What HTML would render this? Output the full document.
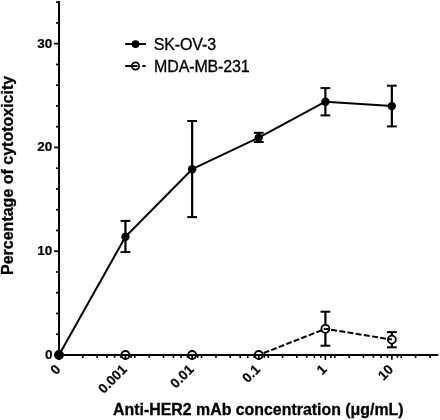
<!DOCTYPE html>
<html><head><meta charset="utf-8"><style>
html,body{margin:0;padding:0;background:#fff;}
svg{display:block;}
.tl{font-family:"Liberation Sans",Arial,sans-serif;font-weight:bold;font-size:13.5px;fill:#000;stroke:#000;stroke-width:0.2px;}
.ttl{font-family:"Liberation Sans",Arial,sans-serif;font-weight:bold;font-size:16px;fill:#000;stroke:#000;stroke-width:0.3px;}
.lg{font-family:"Liberation Sans",Arial,sans-serif;font-size:16px;letter-spacing:-0.15px;fill:#000;stroke:#000;stroke-width:0.3px;}
</style></head><body>
<svg width="440" height="420" viewBox="0 0 440 420">
<rect width="440" height="420" fill="#fff"/>
<line x1="59" y1="1.1" x2="59" y2="356" stroke="#000" stroke-width="2"/>
<line x1="58" y1="355.0" x2="438.3" y2="355.0" stroke="#000" stroke-width="2"/>
<line x1="54" y1="355.00" x2="59" y2="355.00" stroke="#000" stroke-width="1.7"/>
<line x1="56" y1="334.24" x2="59" y2="334.24" stroke="#000" stroke-width="1.7"/>
<line x1="56" y1="313.49" x2="59" y2="313.49" stroke="#000" stroke-width="1.7"/>
<line x1="56" y1="292.73" x2="59" y2="292.73" stroke="#000" stroke-width="1.7"/>
<line x1="56" y1="271.98" x2="59" y2="271.98" stroke="#000" stroke-width="1.7"/>
<line x1="54" y1="251.22" x2="59" y2="251.22" stroke="#000" stroke-width="1.7"/>
<line x1="56" y1="230.46" x2="59" y2="230.46" stroke="#000" stroke-width="1.7"/>
<line x1="56" y1="209.71" x2="59" y2="209.71" stroke="#000" stroke-width="1.7"/>
<line x1="56" y1="188.95" x2="59" y2="188.95" stroke="#000" stroke-width="1.7"/>
<line x1="56" y1="168.20" x2="59" y2="168.20" stroke="#000" stroke-width="1.7"/>
<line x1="54" y1="147.44" x2="59" y2="147.44" stroke="#000" stroke-width="1.7"/>
<line x1="56" y1="126.68" x2="59" y2="126.68" stroke="#000" stroke-width="1.7"/>
<line x1="56" y1="105.93" x2="59" y2="105.93" stroke="#000" stroke-width="1.7"/>
<line x1="56" y1="85.17" x2="59" y2="85.17" stroke="#000" stroke-width="1.7"/>
<line x1="56" y1="64.42" x2="59" y2="64.42" stroke="#000" stroke-width="1.7"/>
<line x1="54" y1="43.66" x2="59" y2="43.66" stroke="#000" stroke-width="1.7"/>
<line x1="56" y1="22.90" x2="59" y2="22.90" stroke="#000" stroke-width="1.7"/>
<line x1="56" y1="2.15" x2="59" y2="2.15" stroke="#000" stroke-width="1.7"/>
<line x1="59.00" y1="355.0" x2="59.00" y2="359.8" stroke="#000" stroke-width="1.7"/>
<line x1="82.80" y1="355.0" x2="82.80" y2="357.9" stroke="#000" stroke-width="1.6"/>
<line x1="97.10" y1="355.0" x2="97.10" y2="357.9" stroke="#000" stroke-width="1.6"/>
<line x1="107.00" y1="355.0" x2="107.00" y2="357.9" stroke="#000" stroke-width="1.6"/>
<line x1="114.60" y1="355.0" x2="114.60" y2="357.9" stroke="#000" stroke-width="1.6"/>
<line x1="121.00" y1="355.0" x2="121.00" y2="357.9" stroke="#000" stroke-width="1.6"/>
<line x1="125.45" y1="355.0" x2="125.45" y2="359.8" stroke="#000" stroke-width="1.7"/>
<line x1="131.05" y1="355.0" x2="131.05" y2="357.9" stroke="#000" stroke-width="1.6"/>
<line x1="134.85" y1="355.0" x2="134.85" y2="357.9" stroke="#000" stroke-width="1.6"/>
<line x1="149.25" y1="355.0" x2="149.25" y2="357.9" stroke="#000" stroke-width="1.6"/>
<line x1="163.55" y1="355.0" x2="163.55" y2="357.9" stroke="#000" stroke-width="1.6"/>
<line x1="173.45" y1="355.0" x2="173.45" y2="357.9" stroke="#000" stroke-width="1.6"/>
<line x1="181.05" y1="355.0" x2="181.05" y2="357.9" stroke="#000" stroke-width="1.6"/>
<line x1="187.45" y1="355.0" x2="187.45" y2="357.9" stroke="#000" stroke-width="1.6"/>
<line x1="192.15" y1="355.0" x2="192.15" y2="359.8" stroke="#000" stroke-width="1.7"/>
<line x1="197.75" y1="355.0" x2="197.75" y2="357.9" stroke="#000" stroke-width="1.6"/>
<line x1="201.55" y1="355.0" x2="201.55" y2="357.9" stroke="#000" stroke-width="1.6"/>
<line x1="215.95" y1="355.0" x2="215.95" y2="357.9" stroke="#000" stroke-width="1.6"/>
<line x1="230.25" y1="355.0" x2="230.25" y2="357.9" stroke="#000" stroke-width="1.6"/>
<line x1="240.15" y1="355.0" x2="240.15" y2="357.9" stroke="#000" stroke-width="1.6"/>
<line x1="247.75" y1="355.0" x2="247.75" y2="357.9" stroke="#000" stroke-width="1.6"/>
<line x1="254.15" y1="355.0" x2="254.15" y2="357.9" stroke="#000" stroke-width="1.6"/>
<line x1="258.75" y1="355.0" x2="258.75" y2="359.8" stroke="#000" stroke-width="1.7"/>
<line x1="264.35" y1="355.0" x2="264.35" y2="357.9" stroke="#000" stroke-width="1.6"/>
<line x1="268.15" y1="355.0" x2="268.15" y2="357.9" stroke="#000" stroke-width="1.6"/>
<line x1="282.55" y1="355.0" x2="282.55" y2="357.9" stroke="#000" stroke-width="1.6"/>
<line x1="296.85" y1="355.0" x2="296.85" y2="357.9" stroke="#000" stroke-width="1.6"/>
<line x1="306.75" y1="355.0" x2="306.75" y2="357.9" stroke="#000" stroke-width="1.6"/>
<line x1="314.35" y1="355.0" x2="314.35" y2="357.9" stroke="#000" stroke-width="1.6"/>
<line x1="320.75" y1="355.0" x2="320.75" y2="357.9" stroke="#000" stroke-width="1.6"/>
<line x1="325.40" y1="355.0" x2="325.40" y2="359.8" stroke="#000" stroke-width="1.7"/>
<line x1="331.00" y1="355.0" x2="331.00" y2="357.9" stroke="#000" stroke-width="1.6"/>
<line x1="334.80" y1="355.0" x2="334.80" y2="357.9" stroke="#000" stroke-width="1.6"/>
<line x1="349.20" y1="355.0" x2="349.20" y2="357.9" stroke="#000" stroke-width="1.6"/>
<line x1="363.50" y1="355.0" x2="363.50" y2="357.9" stroke="#000" stroke-width="1.6"/>
<line x1="373.40" y1="355.0" x2="373.40" y2="357.9" stroke="#000" stroke-width="1.6"/>
<line x1="381.00" y1="355.0" x2="381.00" y2="357.9" stroke="#000" stroke-width="1.6"/>
<line x1="387.40" y1="355.0" x2="387.40" y2="357.9" stroke="#000" stroke-width="1.6"/>
<line x1="391.85" y1="355.0" x2="391.85" y2="359.8" stroke="#000" stroke-width="1.7"/>
<line x1="397.45" y1="355.0" x2="397.45" y2="357.9" stroke="#000" stroke-width="1.6"/>
<line x1="401.25" y1="355.0" x2="401.25" y2="357.9" stroke="#000" stroke-width="1.6"/>
<line x1="415.65" y1="355.0" x2="415.65" y2="357.9" stroke="#000" stroke-width="1.6"/>
<line x1="429.95" y1="355.0" x2="429.95" y2="357.9" stroke="#000" stroke-width="1.6"/>
<text x="52.4" y="359.00" text-anchor="end" class="tl">0</text>
<text x="52.4" y="255.22" text-anchor="end" class="tl">10</text>
<text x="52.4" y="151.44" text-anchor="end" class="tl">20</text>
<text x="52.4" y="47.66" text-anchor="end" class="tl">30</text>
<text x="61.30" y="370.30" text-anchor="end" class="tl" transform="rotate(-45 61.30 370.30)">0</text>
<text x="127.75" y="370.30" text-anchor="end" class="tl" transform="rotate(-45 127.75 370.30)">0.001</text>
<text x="194.45" y="370.30" text-anchor="end" class="tl" transform="rotate(-45 194.45 370.30)">0.01</text>
<text x="261.05" y="370.30" text-anchor="end" class="tl" transform="rotate(-45 261.05 370.30)">0.1</text>
<text x="327.70" y="370.30" text-anchor="end" class="tl" transform="rotate(-45 327.70 370.30)">1</text>
<text x="394.15" y="370.30" text-anchor="end" class="tl" transform="rotate(-45 394.15 370.30)">10</text>
<text x="13.5" y="175.4" text-anchor="middle" class="ttl" style="font-size:16px" transform="rotate(-90 13.5 175.4)">Percentage of cytotoxicity</text>
<text x="258.3" y="414.9" text-anchor="middle" class="ttl" style="font-size:15.9px">Anti-HER2 mAb concentration (μg/mL)</text>
<line x1="125.45" y1="220.9" x2="125.45" y2="252.1" stroke="#000" stroke-width="2.2"/>
<line x1="120.55" y1="220.9" x2="130.35" y2="220.9" stroke="#000" stroke-width="2"/>
<line x1="120.55" y1="252.1" x2="130.35" y2="252.1" stroke="#000" stroke-width="2"/>
<line x1="192.15" y1="121" x2="192.15" y2="217.1" stroke="#000" stroke-width="2.2"/>
<line x1="187.25" y1="121" x2="197.05" y2="121" stroke="#000" stroke-width="2"/>
<line x1="187.25" y1="217.1" x2="197.05" y2="217.1" stroke="#000" stroke-width="2"/>
<line x1="258.75" y1="132.8" x2="258.75" y2="142.0" stroke="#000" stroke-width="2.2"/>
<line x1="253.85" y1="132.8" x2="263.65" y2="132.8" stroke="#000" stroke-width="2"/>
<line x1="253.85" y1="142.0" x2="263.65" y2="142.0" stroke="#000" stroke-width="2"/>
<line x1="325.40" y1="88.1" x2="325.40" y2="115.4" stroke="#000" stroke-width="2.2"/>
<line x1="320.50" y1="88.1" x2="330.30" y2="88.1" stroke="#000" stroke-width="2"/>
<line x1="320.50" y1="115.4" x2="330.30" y2="115.4" stroke="#000" stroke-width="2"/>
<line x1="391.85" y1="85.7" x2="391.85" y2="126.4" stroke="#000" stroke-width="2.2"/>
<line x1="386.95" y1="85.7" x2="396.75" y2="85.7" stroke="#000" stroke-width="2"/>
<line x1="386.95" y1="126.4" x2="396.75" y2="126.4" stroke="#000" stroke-width="2"/>
<line x1="325.40" y1="311.7" x2="325.40" y2="324.80" stroke="#000" stroke-width="2.2"/>
<line x1="325.40" y1="332.80" x2="325.40" y2="345.7" stroke="#000" stroke-width="2.2"/>
<line x1="320.50" y1="311.7" x2="330.30" y2="311.7" stroke="#000" stroke-width="2"/>
<line x1="320.50" y1="345.7" x2="330.30" y2="345.7" stroke="#000" stroke-width="2"/>
<line x1="391.85" y1="332.1" x2="391.85" y2="335.60" stroke="#000" stroke-width="2.2"/>
<line x1="391.85" y1="343.60" x2="391.85" y2="347.3" stroke="#000" stroke-width="2.2"/>
<line x1="386.95" y1="332.1" x2="396.75" y2="332.1" stroke="#000" stroke-width="2"/>
<line x1="386.95" y1="347.3" x2="396.75" y2="347.3" stroke="#000" stroke-width="2"/>
<polyline points="59.00,355.00 125.45,236.80 192.15,169.20 258.75,137.60 325.40,101.70 391.85,106.10" fill="none" stroke="#000" stroke-width="2" stroke-linejoin="round"/>
<line x1="263.70" y1="353.05" x2="325.40" y2="328.80" stroke="#000" stroke-width="2" stroke-dasharray="5.87 2.2"/>
<line x1="325.40" y1="328.80" x2="391.85" y2="339.60" stroke="#000" stroke-width="2" stroke-dasharray="6 2.28" stroke-dashoffset="2.5"/>
<circle cx="59.00" cy="355.00" r="4.0" fill="none" stroke="#000" stroke-width="1.8"/>
<circle cx="125.45" cy="355.00" r="4.0" fill="none" stroke="#000" stroke-width="1.8"/>
<circle cx="192.15" cy="355.00" r="4.0" fill="none" stroke="#000" stroke-width="1.8"/>
<circle cx="258.75" cy="355.00" r="4.0" fill="none" stroke="#000" stroke-width="1.8"/>
<circle cx="325.40" cy="328.80" r="4.0" fill="none" stroke="#000" stroke-width="1.8"/>
<circle cx="391.85" cy="339.60" r="4.0" fill="none" stroke="#000" stroke-width="1.8"/>
<circle cx="59.00" cy="355.00" r="4.2" fill="#000"/>
<circle cx="125.45" cy="236.80" r="4.2" fill="#000"/>
<circle cx="192.15" cy="169.20" r="4.2" fill="#000"/>
<circle cx="258.75" cy="137.60" r="4.2" fill="#000"/>
<circle cx="325.40" cy="101.70" r="4.2" fill="#000"/>
<circle cx="391.85" cy="106.10" r="4.2" fill="#000"/>
<line x1="125.1" y1="44.05" x2="145.9" y2="44.05" stroke="#000" stroke-width="1.9"/>
<circle cx="135.55" cy="44.1" r="3.9" fill="#000"/>
<line x1="125.2" y1="66.0" x2="145.6" y2="66.0" stroke="#000" stroke-width="1.9" stroke-dasharray="12.3 4.8 3.3 10"/>
<circle cx="135.5" cy="66.0" r="3.6" fill="none" stroke="#000" stroke-width="1.7"/>
<text x="153.8" y="50.2" class="lg">SK-OV-3</text>
<text x="154.1" y="72.0" class="lg">MDA-MB-231</text>
</svg>
</body></html>
